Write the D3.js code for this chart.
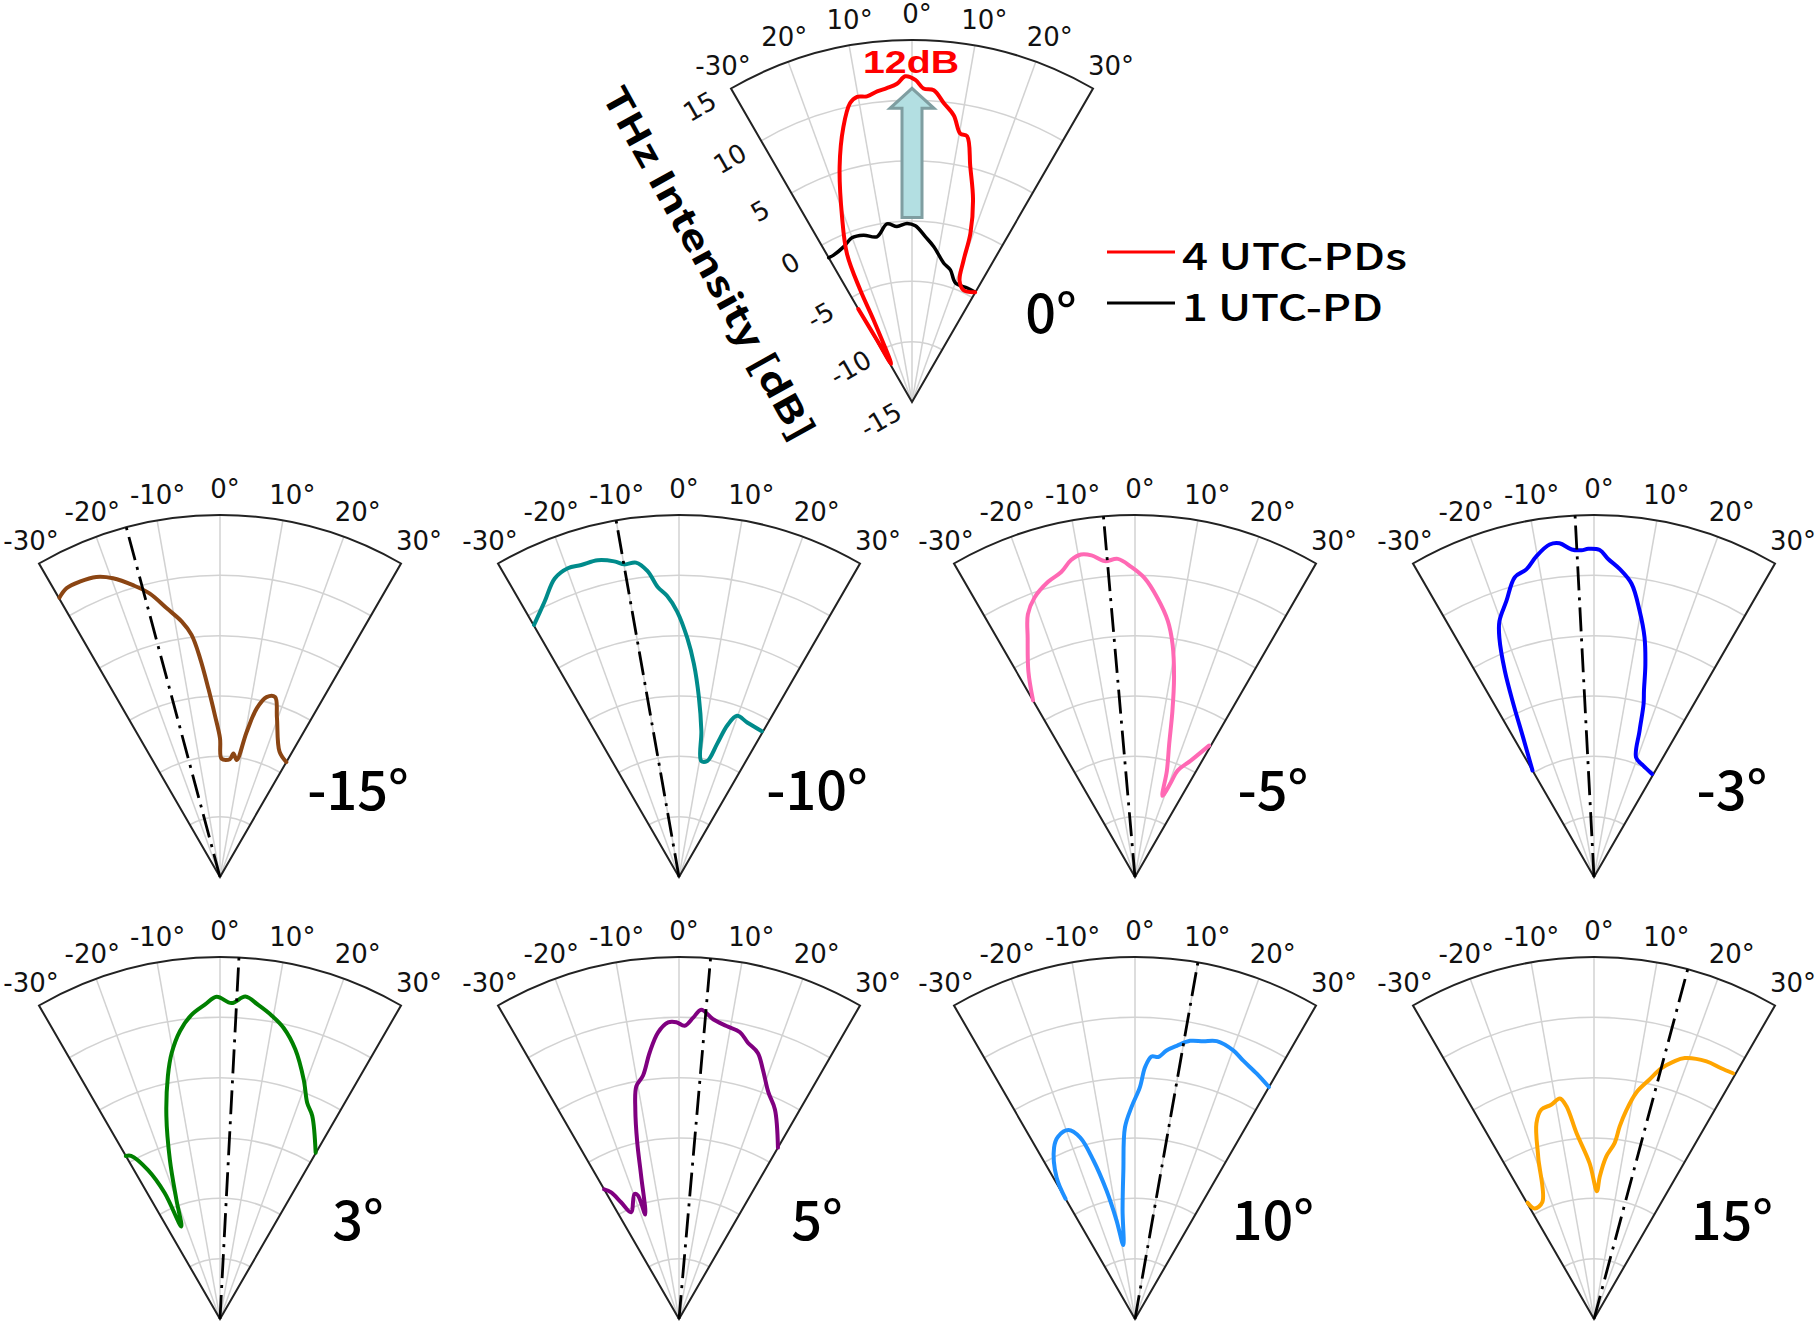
<!DOCTYPE html>
<html>
<head>
<meta charset="utf-8">
<script src="https://cdn.jsdelivr.net/npm/d3@7"></script>
<style>
  body { margin: 0; background: #fff; }
  svg { display: block; }
</style>
</head>
<body>
<script>
// ---- data: [angle in degrees, intensity in dB] ----
const top4PD = [[-30, -6.1], [-29.5, -9.0], [-28.7, -11.4], [-25.1, -7.5], [-24.8, -4.8], [-23.7, -1.6],
  [-20.7, 1.4], [-17.1, 5.4], [-14.0, 8.5], [-11.7, 10.3], [-10.2, 10.7], [-8.4, 10.6], [-6.4, 10.9],
  [-4.6, 11.1], [-2.7, 11.4], [-1.2, 12.0], [0.6, 11.7], [2.1, 11.0], [4.0, 10.9], [6.1, 9.9], [8.3, 9.0],
  [10.2, 7.6], [11.7, 7.5], [13.9, 5.1], [16.8, 2.5], [19.1, -0.2], [20.0, -2.5], [21.4, -4.2],
  [24.8, -4.8], [29.9, -4.5]];
const top1PD = [[-30, -1.2], [-28.1, -1.2], [-23.8, -0.95], [-20.1, -0.5], [-16.2, -0.6], [-12.0, -1.0],
  [-8.0, -0.1], [-4.9, -0.4], [-1.6, -0.2], [1.1, -0.4], [4.6, -1.25], [8.0, -2.0], [12.9, -3.2],
  [16.2, -3.6], [20.1, -4.5], [25.9, -4.5], [29.3, -4.5]];

const steerM15 = [[-29.9, 11.7], [-28.0, 12.1], [-25.4, 12.1], [-22.4, 11.9], [-19.7, 11.3], [-16.5, 10.2],
  [-13.9, 9.2], [-11.2, 7.7], [-8.5, 6.4], [-6.7, 5.2], [-5.2, 3.2], [-3.5, 0.6], [-1.8, -1.6], [0, -3.5],
  [0.8, -5.2], [4.8, -5.2], [6.2, -4.7], [8.1, -5.2], [10.4, -2.8], [12.3, -0.7], [14.5, 0.4], [17.0, 0.6],
  [19.7, -1.0], [25.4, -3.5], [30, -4.0]];
const steerM10 = [[-29.9, 9.1], [-26.0, 10.4], [-22.6, 11.8], [-19.8, 12.2], [-17.4, 12.1], [-14.4, 12.1],
  [-11.6, 11.7], [-9.9, 11.3], [-7.8, 11.3], [-5.9, 10.5], [-4.2, 9.1], [-2.4, 8.3], [-0.4, 7.0], [2.0, 4.8],
  [4.0, 2.7], [6.3, 0.0], [8.7, -2.75], [10.8, -5.2], [13.7, -5.1], [16.0, -3.5], [17.7, -1.8],
  [19.8, -0.8], [23.8, -1.0], [29.6, -1.1]];
const steerM5 = [[-30, 1.9], [-27.4, 4.2], [-24.2, 6.7], [-22.2, 8.5], [-19.8, 9.6], [-16.4, 10.5],
  [-13.6, 11.0], [-11.4, 11.8], [-9.5, 12.1], [-7.7, 11.9], [-5.5, 11.3], [-3.1, 11.4], [-0.7, 10.7],
  [1.8, 9.8], [4.6, 8.2], [7.3, 6.4], [9.2, 4.5], [11.1, 1.8], [12.7, -0.9], [14.4, -3.6], [16.7, -5.8],
  [18.7, -7.9], [20.8, -6.6], [21.8, -5.5], [25.6, -4.3], [29.4, -2.5]];
const steerM3 = [[-30, -4.8], [-26.9, -2.0], [-25.0, 0.8], [-23.4, 3.6], [-21.6, 6.3], [-20.3, 7.6],
  [-17.6, 9.0], [-14.8, 10.7], [-12.4, 11.1], [-10.2, 12.0], [-7.6, 12.8], [-5.9, 12.8], [-3.9, 12.2],
  [-2.2, 12.1], [-1.0, 12.2], [1.0, 12.1], [2.5, 11.4], [4.8, 10.6], [7.3, 9.5], [9.7, 7.4], [11.9, 5.3],
  [13.6, 3.1], [15.0, 1.0], [16.0, -0.1], [17.3, -2.3], [19.4, -4.5], [23.7, -4.9], [29.4, -5.2]];
const steerP3 = [[-30, 0.6], [-28.6, 0.4], [-25.8, -1.3], [-23.7, -3.6], [-22.7, -6.7], [-20.1, -4.5],
  [-17.5, -1.2], [-14.8, 2.4], [-12.1, 5.6], [-10.3, 7.4], [-7.9, 9.1], [-5.4, 10.3], [-2.7, 11.1],
  [-0.6, 11.7], [2.1, 11.2], [4.5, 11.8], [7.0, 11.2], [9.7, 10.5], [12.3, 9.7], [15.6, 8.2], [19.3, 6.0],
  [22.0, 4.3], [24.4, 3.5], [29.9, 0.9]];
const steerP5 = [[-30, -2.6], [-28.2, -3.1], [-26.4, -4.2], [-24.2, -5.3], [-19.6, -4.0], [-18.4, -4.2],
  [-17.9, -5.9], [-14.8, -2.7], [-13.3, 0.05], [-11.8, 2.7], [-10.4, 4.6], [-8.4, 5.4], [-6.3, 7.2],
  [-4.2, 8.8], [-2.1, 9.6], [-0.5, 9.6], [1.1, 9.3], [2.7, 10.0], [4.1, 10.7], [6.5, 10.0], [9.2, 9.6],
  [12.0, 9.3], [14.0, 8.6], [16.5, 8.0], [18.6, 6.8], [21.5, 5.2], [24.6, 4.1], [30, 1.4]];
const steerP10 = [[-30, -3.5], [-29.0, -1.6], [-25.3, 0.7], [-22.9, 1.4], [-19.4, 1.6], [-16.8, 0.7],
  [-14.7, -1.4], [-12.5, -4.1], [-10.6, -6.7], [-9.0, -8.8], [-6.5, -5.9], [-4.5, -2.7], [-3.0, 0.9],
  [-0.9, 2.6], [1.2, 4.2], [2.3, 5.9], [3.6, 6.8], [5.1, 6.8], [6.7, 7.4], [8.7, 7.9], [11.2, 8.5],
  [13.8, 8.7], [16.4, 9.0], [20.1, 8.7], [22.8, 8.2], [26.4, 7.7], [30, 7.2]];
const steerP15 = [[-29.7, -3.9], [-28.2, -4.6], [-23.8, -4.4], [-19.0, -0.8], [-16.4, 1.9], [-14.1, 2.9],
  [-11.3, 3.1], [-8.8, 3.5], [-7.4, 2.8], [-5.4, 0.5], [-1.6, -2.1], [1.3, -4.4], [2.3, -3.2], [4.3, -1.5],
  [6.7, -0.3], [7.6, 1.1], [8.8, 2.5], [10.6, 4.1], [13.1, 5.4], [15.0, 6.5], [17.1, 7.3], [19.2, 7.9],
  [23.6, 8.3], [26.9, 8.3], [29.5, 8.4]];

const steerAngles = [-15, -10, -5, -3, 3, 5, 10, 15];
const steerLabels = ["-15°", "-10°", "-5°", "-3°", "3°", "5°", "10°", "15°"];
const steerSeries = [steerM15, steerM10, steerM5, steerM3, steerP3, steerP5, steerP10, steerP15];

const thetaTicks = [-30, -20, -10, 0, 10, 20, 30];
const thetaNames = ["-30°", "-20°", "-10°", "0°", "10°", "20°", "30°"];
const thetaNamesTop = ["-30°", "20°", "10°", "0°", "10°", "20°", "30°"];
const rTicks = [15, 10, 5, 0, -5, -10, -15];
const rGrid = [-10, -5, 0, 5, 10];
const arrowDb = [0.3, 11.0];   // the 12 dB gain arrow, from / to

// ---- styles and layout ----
const steerColors = ["#8b4513", "#008b8b", "#ff69b4", "#0000ff", "#008000", "#800080", "#1e90ff", "#ffa500"];
const width = 1817, height = 1330;
const R = 362;
const colX = [220, 679, 1135, 1594];
const rowY = [877, 1319];
const labelY = [810, 1240];
const topApex = [912, 402];

const rad = d => d * Math.PI / 180;
const r = d3.scaleLinear().domain([-15, 15]).range([0, R]);
const line = d3.lineRadial()
  .angle(d => rad(d[0]))
  .radius(d => r(d[1]))
  .curve(d3.curveCatmullRom.alpha(0.5));
const straight = d3.lineRadial()
  .angle(d => rad(d[0]))
  .radius(d => r(d[1]));

const svg = d3.select("body").append("svg")
  .attr("width", width)
  .attr("height", height);

// polar wedge: grid, frame, angle labels
function drawWedge(g, names) {
  g.selectAll(".ring").data(rGrid).enter().append("path")
    .attr("d", v => { const p = d3.path(); p.arc(0, 0, r(v), rad(-120), rad(-60)); return p.toString(); })
    .attr("fill", "none").attr("stroke", "#d2d2d2").attr("stroke-width", 1.5);

  g.selectAll(".spoke").data(thetaTicks.slice(1, -1)).enter().append("path")
    .attr("d", a => straight([[a, -15], [a, 15]]))
    .attr("fill", "none").attr("stroke", "#d2d2d2").attr("stroke-width", 1.5);

  g.append("path")
    .attr("d", d3.arc()({ innerRadius: 0, outerRadius: R, startAngle: rad(-30), endAngle: rad(30) }))
    .attr("fill", "none").attr("stroke", "#222").attr("stroke-width", 2);

  g.selectAll(".tlab").data(thetaTicks).enter().append("text")
    .attr("x", a => Math.sin(rad(a)) * (R + 26) + 5)
    .attr("y", a => -Math.cos(rad(a)) * (R + 26))
    .attr("text-anchor", "middle")
    .attr("dominant-baseline", "central")
    .style("font-family", "DejaVu Sans")
    .style("font-size", "26px")
    .style("fill", "#111")
    .text((a, i) => names[i]);
}

function drawCurve(g, data, color, w) {
  g.append("path")
    .attr("d", line(data))
    .attr("fill", "none")
    .attr("stroke", color)
    .attr("stroke-width", w)
    .attr("stroke-linejoin", "round")
    .attr("stroke-linecap", "round");
}

// ---- top panel (steering 0°) ----
const gTop = svg.append("g").attr("transform", `translate(${topApex[0]},${topApex[1]})`);
drawWedge(gTop, thetaNamesTop);

// radial tick labels along the left edge
const edge = rad(-30);
gTop.selectAll(".rlab").data(rTicks).enter().append("text")
  .attr("transform", v => {
    const x = Math.sin(edge) * r(v) - 36 * Math.cos(edge);
    const y = -Math.cos(edge) * r(v) + 36 * Math.sin(-edge);
    return `translate(${x},${y}) rotate(-30)`;
  })
  .attr("text-anchor", "middle")
  .attr("dominant-baseline", "central")
  .style("font-family", "DejaVu Sans")
  .style("font-size", "26px")
  .style("fill", "#111")
  .text(v => v);

svg.append("text")
  .attr("transform", "translate(711,262) rotate(61)")
  .attr("text-anchor", "middle")
  .attr("dominant-baseline", "central")
  .attr("textLength", 398)
  .attr("lengthAdjust", "spacingAndGlyphs")
  .style("font-family", "'Noto Sans CJK JP', 'Noto Sans', sans-serif")
  .style("font-weight", "bold")
  .style("font-size", "35px")
  .text("THz Intensity [dB]");

drawCurve(gTop, top1PD, "#000", 3.5);
drawCurve(gTop, top4PD, "#ff0000", 4);

// gain arrow along 0°
const y0 = -r(arrowDb[0]), y1 = -r(arrowDb[1]);
const ap = d3.path();
ap.moveTo(-10, y0); ap.lineTo(-10, y1 + 20); ap.lineTo(-22, y1 + 20); ap.lineTo(0, y1);
ap.lineTo(22, y1 + 20); ap.lineTo(10, y1 + 20); ap.lineTo(10, y0); ap.closePath();
gTop.append("path").attr("d", ap.toString())
  .attr("fill", "#b3dfe2").attr("stroke", "#7f9ea1").attr("stroke-width", 3);

gTop.append("text")
  .attr("x", -1).attr("y", -329)
  .attr("text-anchor", "middle")
  .attr("textLength", 96)
  .attr("lengthAdjust", "spacingAndGlyphs")
  .style("font-family", "'Liberation Sans', Arial, sans-serif")
  .style("font-weight", "bold")
  .style("font-size", "32px")
  .style("fill", "#ff0000")
  .text("12dB");

svg.append("text")
  .attr("x", topApex[0] + 139).attr("y", 333)
  .attr("text-anchor", "middle")
  .style("font-family", "'Noto Sans CJK JP', sans-serif")
  .style("font-weight", 500)
  .style("font-size", "54px")
  .text("0°");

// legend
const legend = [["4 UTC-PDs", "#ff0000", 252, 225], ["1 UTC-PD", "#000", 303, 201]];
legend.forEach(([name, color, y, len]) => {
  svg.append("line").attr("x1", 1107).attr("x2", 1175).attr("y1", y).attr("y2", y)
    .attr("stroke", color).attr("stroke-width", 3);
  svg.append("text")
    .attr("x", 1182).attr("y", y + 18)
    .attr("textLength", len)
    .attr("lengthAdjust", "spacingAndGlyphs")
    .style("font-family", "'Noto Sans CJK JP', sans-serif")
    .style("font-weight", 500)
    .style("font-size", "37px")
    .text(name);
});

// ---- steered panels ----
steerAngles.forEach((s, i) => {
  const row = Math.floor(i / 4), col = i % 4;
  const g = svg.append("g").attr("transform", `translate(${colX[col]},${rowY[row]})`);
  drawWedge(g, thetaNames);
  drawCurve(g, steerSeries[i], steerColors[i], 4);

  g.append("path")
    .attr("d", straight([[s, -15], [s, 15]]))
    .attr("stroke", "#000")
    .attr("stroke-width", 2.8)
    .attr("stroke-dasharray", "24,7,3,7");

  svg.append("text")
    .attr("x", colX[col] + 138).attr("y", labelY[row])
    .attr("text-anchor", "middle")
    .style("font-family", "'Noto Sans CJK JP', sans-serif")
    .style("font-weight", 500)
    .style("font-size", "54px")
    .text(steerLabels[i]);
});
</script>
</body>
</html>
